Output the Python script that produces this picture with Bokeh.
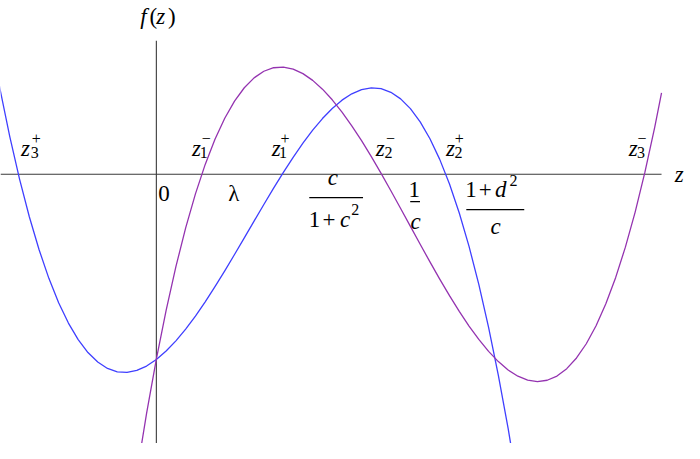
from bokeh.plotting import figure
from bokeh.models import Range1d, ColumnDataSource
from bokeh.core.properties import value
from bokeh.embed import file_html
from bokeh.resources import INLINE

# ---------------- data ----------------
blue_z = [-1.7, -1.6, -1.5, -1.4, -1.3, -1.2, -1.1, -1.0, -0.9, -0.8, -0.7, -0.6, -0.5, -0.4,
          -0.3, -0.2, -0.1, 0.0, 0.1, 0.2, 0.3, 0.4, 0.5, 0.6, 0.7, 0.8, 0.9, 1.0, 1.1, 1.2,
          1.3, 1.4, 1.5, 1.6, 1.7, 1.8, 1.9, 2.0, 2.1, 2.2, 2.3, 2.4, 2.5, 2.6, 2.7, 2.8,
          2.9, 3.0, 3.1, 3.2, 3.3, 3.4, 3.5, 3.6, 3.7]
blue_f = [1.4298, 0.8827, 0.3901, -0.0502, -0.4404, -0.7825, -1.0787, -1.3312, -1.5421,
          -1.7134, -1.8475, -1.9463, -2.0121, -2.0470, -2.0531, -2.0325, -1.9874, -1.9200,
          -1.8323, -1.7266, -1.6049, -1.4693, -1.3221, -1.1654, -1.0012, -0.8318, -0.6593,
          -0.4858, -0.3134, -0.1444, 0.0192, 0.1753, 0.3217, 0.4562, 0.5767, 0.6811, 0.7673,
          0.8330, 0.8762, 0.8947, 0.8864, 0.8492, 0.7809, 0.6793, 0.5424, 0.3679, 0.1539,
          -0.1020, -0.4018, -0.7477, -1.1417, -1.5861, -2.0829, -2.6344, -3.2426]

purple_z = [-0.2, -0.1, 0.0, 0.1, 0.2, 0.3, 0.4, 0.5, 0.6, 0.7, 0.8, 0.9, 1.0, 1.1, 1.2, 1.3,
            1.4, 1.5, 1.6, 1.7, 1.8, 1.9, 2.0, 2.1, 2.2, 2.3, 2.4, 2.5, 2.6, 2.7, 2.8, 2.9,
            3.0, 3.1, 3.2, 3.3, 3.4, 3.5, 3.6, 3.7, 3.8, 3.9, 4.0, 4.1, 4.2, 4.3, 4.4, 4.5,
            4.6, 4.7, 4.8, 4.9, 5.0, 5.1, 5.17]
purple_f = [-3.0982, -2.4786, -1.9167, -1.4104, -0.9576, -0.5561, -0.2037, 0.1016, 0.3621,
            0.5799, 0.7571, 0.8960, 0.9985, 1.0669, 1.1034, 1.1100, 1.0890, 1.0424, 0.9725,
            0.8813, 0.7711, 0.6439, 0.5019, 0.3473, 0.1822, 0.0088, -0.1709, -0.3546,
            -0.5402, -0.7255, -0.9084, -1.0868, -1.2585, -1.4214, -1.5732, -1.7119, -1.8354,
            -1.9414, -2.0278, -2.0925, -2.1333, -2.1481, -2.1347, -2.0910, -2.0148, -1.9040,
            -1.7565, -1.5700, -1.3424, -1.0717, -0.7556, -0.3920, 0.0213, 0.4864, 0.8439]

# root label texts: (main, superscript, subscript)
root_labels = [("z", "+", "3"), ("z", "\u2212", "1"), ("z", "+", "1"),
               ("z", "\u2212", "2"), ("z", "+", "2"), ("z", "\u2212", "3")]

# ---------------- layout (reference pixel positions) ----------------
X0, Y0, S = 159.5, 180.0, 100.0
def dx(px):
    return (px - X0) / S
def dy(py):
    return (Y0 - py) / S

MAIN = "23px"
SMALL = "16px"
SHIFT = {MAIN: -7, SMALL: -8}   # screen-px correction of the text baseline
FONT = value("Liberation Serif")

# (z left, sup left, sub left) for each root label
root_pos = [(21, 32, 31), (196, 206, 204), (277.5, 286.5, 285),
            (384, 394.5, 393), (456, 465, 464.5), (643, 652, 651.5)]
Z_BASE, SUP_BASE, SUB_BASE = 161, 151, 165.5

pieces = []  # (text, left px, baseline py, size, style)
for (m, sup, sub), (xm, xs, xb) in zip(root_labels, root_pos):
    pieces.append((m, xm, Z_BASE, MAIN, "italic"))
    pieces.append((sup, xs, SUP_BASE, SMALL, "normal"))
    pieces.append((sub, xb, SUB_BASE, SMALL, "normal"))

pieces += [
    ("f", 143, 23.5, MAIN, "italic"), ("(", 152.5, 23.5, MAIN, "normal"),
    ("z", 159.5, 23.5, MAIN, "italic"), (")", 171.5, 23.5, MAIN, "normal"),
    ("z", 690, 188, MAIN, "italic"),
    ("0", 161.5, 207, MAIN, "normal"),
    ("\u03bb", 233, 207, MAIN, "normal"),
    # c / (1 + c^2)
    ("c", 335, 191, MAIN, "italic"),
    ("1", 315.5, 234, MAIN, "normal"), ("+", 329.5, 234, MAIN, "normal"),
    ("c", 347.5, 234, MAIN, "italic"), ("2", 359, 225, SMALL, "normal"),
    # 1 / c
    ("1", 417.5, 203, MAIN, "normal"), ("c", 419.5, 236, MAIN, "italic"),
    # (1 + d^2) / c
    ("1", 475.5, 203, MAIN, "normal"), ("+", 489.5, 203, MAIN, "normal"),
    ("d", 506, 203, MAIN, "italic"), ("2", 521, 195, SMALL, "normal"),
    ("c", 501.5, 241, MAIN, "italic"),
]

bars = [(316, 371, 204.3), (419.3, 429.3, 208.3), (476.7, 536, 216.7)]

# ---------------- figure ----------------
p = figure(width=684, height=443, output_backend="svg", toolbar_location=None,
           x_range=Range1d(dx(0), dx(700)), y_range=Range1d(dy(459), dy(0)),
           min_border=0)
p.axis.visible = False
p.grid.visible = False
p.outline_line_color = None
p.background_fill_color = "white"
p.border_fill_color = "white"

# axes
p.segment(x0=[dx(0), 0], y0=[0, dy(41.7)], x1=[purple_z[-1], 0], y1=[0, dy(459)],
          line_color="#3a3a3a", line_width=1.1)

# curves
p.line(blue_z, blue_f, line_color="#3f3fff", line_width=1.3, line_join="round")
p.line(purple_z, purple_f, line_color="#9433b0", line_width=1.3, line_join="round")

# fraction bars
p.segment(x0=[dx(b[0]) for b in bars], x1=[dx(b[1]) for b in bars],
          y0=[dy(b[2]) for b in bars], y1=[dy(b[2]) for b in bars],
          line_color="black", line_width=1.3)

# texts
groups = {}
for t, px, py, size, style in pieces:
    groups.setdefault((size, style), []).append((t, dx(px), dy(py)))
for (size, style), items in groups.items():
    src = ColumnDataSource(dict(t=[i[0] for i in items], x=[i[1] for i in items],
                                y=[i[2] for i in items]))
    p.text(x="x", y="y", text="t", source=src, text_font=FONT,
           text_font_size=size, text_font_style=style, text_color="black",
           text_align="left", text_baseline="alphabetic", y_offset=SHIFT[size])

open("out.html", "w").write(file_html(p, INLINE))
